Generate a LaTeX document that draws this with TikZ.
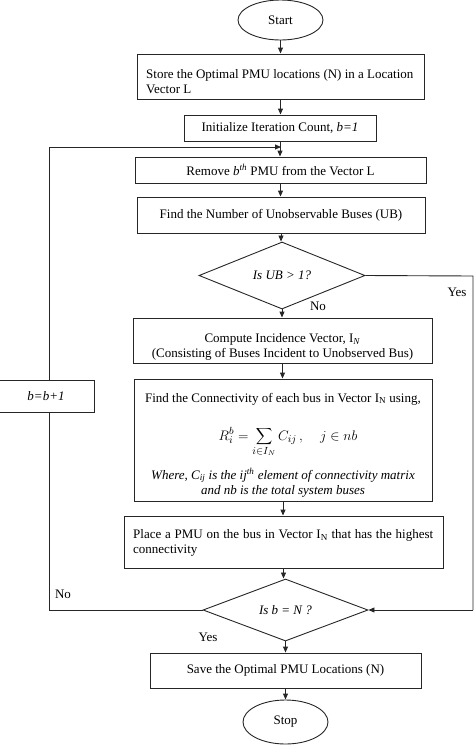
\documentclass[tikz,border=0pt]{standalone}
\usepackage{fontspec}
\usepackage{graphicx}
\setmainfont{Liberation Serif}
\usetikzlibrary{shapes.geometric,arrows.meta}
\begin{document}
\begin{tikzpicture}[x=1pt,y=-1pt,
  font=\fontsize{13}{15}\selectfont,
  every node/.style={inner sep=0pt},
  procbox/.style={draw=black!85, line width=0.9pt, rectangle, fill=white},
  termbox/.style={draw=black!85, line width=0.9pt, ellipse, fill=white},
  decbox/.style={draw=black!85, line width=0.9pt, diamond, fill=white},
  arr/.style={draw=black!85, line width=0.9pt, -{Triangle[length=6pt,width=5pt]}},
  ln/.style={draw=black!85, line width=0.9pt},
  lbl/.style={font=\fontsize{13}{15}\selectfont}]
\useasboundingbox (0,0) rectangle (474,745);

\coordinate (lb) at (49,610);
\coordinate (lt) at (49,147);
\coordinate (mt) at (281,147);
\coordinate (ra) at (473,276);
\coordinate (rb) at (473,610);

\node[termbox, minimum width=85, minimum height=40] (start) at (280.5,20) {Start};
\node[procbox, minimum width=287, minimum height=45] (store) at (280.5,76.5) {};
\node[anchor=base west, align=left] (storetxt) at (146,93.5)
  {Store the Optimal PMU locations (N) in a Location\\Vector L};
\node[procbox, minimum width=192, minimum height=26] (init) at (280,128)
  {Initialize Iteration Count, \textit{b=1}};
\node[procbox, minimum width=291, minimum height=26] (remove) at (280.5,170)
  {Remove \textit{b}\textsuperscript{\textit{th}} PMU from the Vector L};
\node[procbox, minimum width=288, minimum height=36] (findnum) at (281,215)
  {Find the Number of Unobservable Buses (UB)};
\node[decbox, minimum width=166, minimum height=55] (d1) at (282,275.5)
  {\textit{Is UB > 1?}};
\node[procbox, minimum width=299, minimum height=45] (compute) at (282.5,340.5) {};
\node[anchor=base, align=center] (computetxt) at (282.5,357.5)
  {Compute Incidence Vector, I\textsubscript{\textit{N}}\\(Consisting of Buses Incident to Unobserved Bus)};
\node[procbox, minimum width=298, minimum height=122] (conn) at (283,440) {};
\node[anchor=base] (conn1) at (283,402)
  {Find the Connectivity of each bus in Vector I\textsubscript{N} using,};
\node[anchor=base] (formula) at (288,440)
  {\scalebox{1.15}{$\displaystyle R_i^b=\sum_{i\in I_N} C_{ij}\,,\quad j\in nb$}};
\node[anchor=base, align=center] (conn3) at (283,494)
  {\textit{Where, C\textsubscript{ij} is the ij\textsuperscript{th} element of connectivity matrix}\\
   \textit{and nb is the total system buses}};
\node[procbox, minimum width=319, minimum height=52] (place) at (283.5,542) {};
\node[anchor=base west, align=left] (placetxt) at (133,553.5)
  {\makebox[300pt][s]{Place a PMU on the bus in Vector I\textsubscript{N} that has the highest}\\connectivity};
\node[decbox, minimum width=165, minimum height=54] (d2) at (285.5,610)
  {\textit{Is b = N ?}};
\node[procbox, minimum width=271, minimum height=35] (save) at (285.5,670.5)
  {Save the Optimal PMU Locations (N)};
\node[termbox, minimum width=85, minimum height=44] (stop) at (285.5,722) {Stop};

% loop back line
\draw[ln] (d2.west) -- (lb) -- (lt);
\draw[arr] (lt) -- (mt);
\node[procbox, minimum width=96, minimum height=32] (inc) at (46,396) {\textit{b=b+1}};

% yes line
\draw[ln] (d1.east) -- (ra) -- (rb);
\draw[arr] (rb) -- (d2.east);

% main arrows
\draw[arr] (start.south) -- (start.south |- store.north);
\draw[arr] (store.south) -- (store.south |- init.north);
\draw[arr] (init.south) -- (init.south |- remove.north);
\draw[arr] (remove.south) -- (remove.south |- findnum.north);
\draw[arr] (findnum.south) -- (findnum.south |- d1.north);
\draw[arr] (d1.south) -- (d1.south |- compute.north);
\draw[arr] (compute.south) -- (compute.south |- conn.north);
\draw[arr] (conn.south) -- (conn.south |- place.north);
\draw[arr] (place.south) -- (place.south |- d2.north);
\draw[arr] (d2.south) -- (d2.south |- save.north);
\draw[arr] (save.south) -- (save.south |- stop.north);

% labels
\node[lbl] (yes1) at (457,292) {Yes};
\node[lbl] (no1) at (318,306) {No};
\node[lbl] (no2) at (63,594) {No};
\node[lbl] (yes2) at (208,637) {Yes};
\end{tikzpicture}
\end{document}
